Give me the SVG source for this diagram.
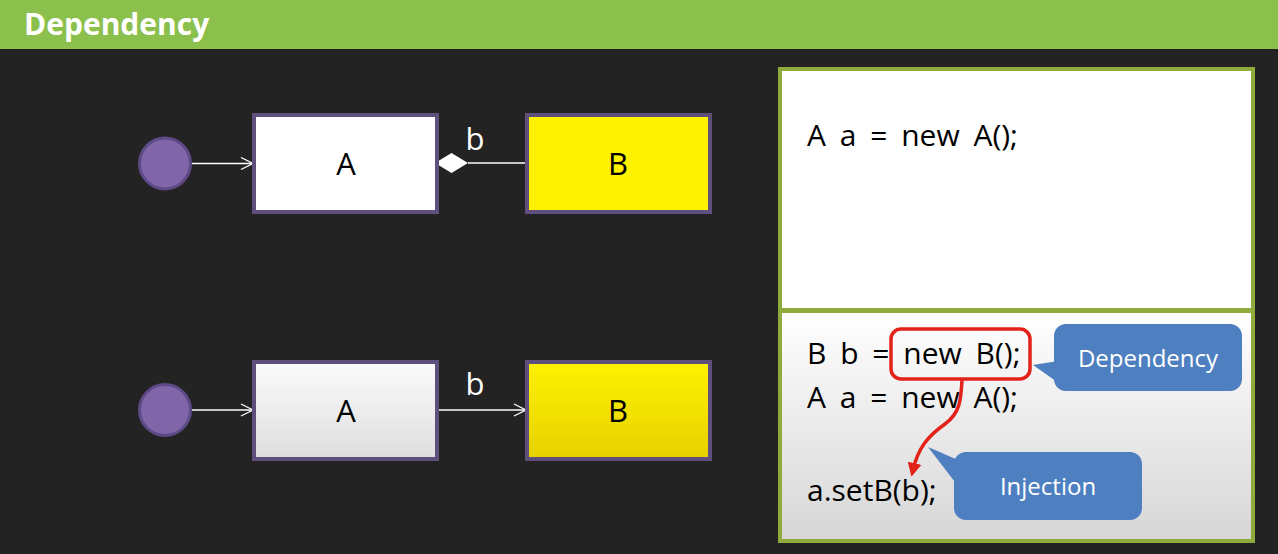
<svg xmlns="http://www.w3.org/2000/svg" width="1278" height="554" viewBox="0 0 1278 554">
<style>
.box{stroke:#5e4f7d;stroke-width:4}
.lbl{font-family:"Open Sans","Liberation Sans",sans-serif;font-size:31px;fill:#000;text-anchor:middle}
.edge{font-family:"Open Sans","Liberation Sans",sans-serif;font-size:31px;fill:#fff;text-anchor:middle}
.code{font-family:"Open Sans","Liberation Sans",sans-serif;font-size:30px;fill:#000;word-spacing:6px}
.call{fill:#4e7fc0}
.calltxt{font-family:"Open Sans","Liberation Sans",sans-serif;font-size:24px;fill:#fff;text-anchor:middle}
.conn{stroke:#fff;stroke-width:1.3;fill:none}
.start{fill:#8065a8;stroke:#5d4a86;stroke-width:3}
</style>
<defs>
<marker id="open" viewBox="0 0 14 14" refX="13" refY="7" markerWidth="14" markerHeight="14" markerUnits="userSpaceOnUse" orient="auto">
<path d="M1,1 L13,7 L1,13" fill="none" stroke="#fff" stroke-width="1.3"/>
</marker>
<marker id="redhead" viewBox="0 0 12 12" refX="6" refY="6" markerWidth="14" markerHeight="14" markerUnits="userSpaceOnUse" orient="auto">
<path d="M0,0 L12,6 L0,12 Z" fill="#e32219"/>
</marker>
<linearGradient id="gPanel" x1="0" y1="0" x2="0" y2="1">
<stop offset="0" stop-color="#ffffff"/>
<stop offset="1" stop-color="#d6d6d6"/>
</linearGradient>
<linearGradient id="gA" x1="0" y1="0" x2="0" y2="1">
<stop offset="0" stop-color="#fbfbfb"/>
<stop offset="1" stop-color="#dedede"/>
</linearGradient>
<linearGradient id="gB" x1="0" y1="0" x2="0" y2="1">
<stop offset="0" stop-color="#fff200"/>
<stop offset="1" stop-color="#e6d100"/>
</linearGradient>
</defs>

<rect x="0" y="0" width="1278" height="554" fill="#232323"/>
<g id="header">
<rect x="0" y="0" width="1278" height="49" fill="#8cc04c"/>
<text x="24" y="35" font-family="'Open Sans','Liberation Sans',sans-serif" font-size="30" font-weight="bold" fill="#fff">Dependency</text>
</g>

<g id="connectors">
<line class="conn" x1="192" y1="163.5" x2="253" y2="163.5" marker-end="url(#open)"/>
<line class="conn" x1="468" y1="163" x2="526" y2="163"/>
<path d="M435,163 L451.5,153 L468,163 L451.5,173 Z" fill="#fff"/>
<line class="conn" x1="192" y1="410" x2="253" y2="410" marker-end="url(#open)"/>
<line class="conn" x1="438" y1="410" x2="526" y2="410" marker-end="url(#open)"/>
<text class="edge" x="475" y="150">b</text>
<text class="edge" x="475" y="395">b</text>
</g>

<g id="start1"><circle class="start" cx="165" cy="163.5" r="25.5"/></g>
<g id="A1"><rect class="box" x="254" y="115" width="183" height="97" fill="#fff"/><text class="lbl" x="346" y="175">A</text></g>
<g id="B1"><rect class="box" x="527" y="115" width="183" height="97" fill="#fff200"/><text class="lbl" x="618" y="175">B</text></g>

<g id="start2"><circle class="start" cx="165" cy="410" r="25.5"/></g>
<g id="A2"><rect class="box" x="254" y="362" width="183" height="97" fill="url(#gA)"/><text class="lbl" x="346" y="422">A</text></g>
<g id="B2"><rect class="box" x="527" y="362" width="183" height="97" fill="url(#gB)"/><text class="lbl" x="618" y="422">B</text></g>

<g id="panelTop">
<rect x="780" y="69" width="473" height="241" fill="#fff" stroke="#8fab3d" stroke-width="4"/>
<text class="code" x="807" y="146">A a = new A();</text>
</g>

<g id="panelBottom">
<rect x="780" y="311" width="473" height="230" fill="url(#gPanel)" stroke="#8fab3d" stroke-width="4"/>
<text class="code" x="807" y="364">B b = new B();</text>
<text class="code" x="807" y="408">A a = new A();</text>
<text class="code" x="807" y="501">a.setB(b);</text>
</g>

<g id="highlight">
<rect x="891" y="329" width="139" height="50" rx="10" fill="none" stroke="#e32219" stroke-width="3.5"/>
<path d="M962,380 C961,400 960,413 945,424 C928,436 918,448 913,470" fill="none" stroke="#e32219" stroke-width="3.5" marker-end="url(#redhead)"/>
</g>

<g id="dependencyCallout">
<path class="call" d="M1058,361 L1033,365 L1070,391 Z"/>
<rect class="call" x="1054" y="324" width="188" height="67" rx="12"/>
<text class="calltxt" x="1148" y="367">Dependency</text>
</g>

<g id="injectionCallout">
<path class="call" d="M958,460 L928,447 L958,486 Z"/>
<rect class="call" x="954" y="452" width="188" height="68" rx="12"/>
<text class="calltxt" x="1048" y="495">Injection</text>
</g>
</svg>
